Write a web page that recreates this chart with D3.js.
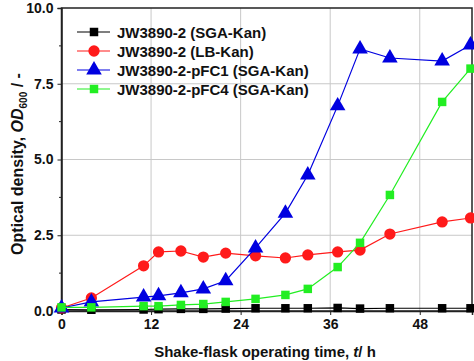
<!DOCTYPE html>
<html>
<head>
<meta charset="utf-8">
<script src="https://cdn.jsdelivr.net/npm/d3@7"></script>
<style>
  body { margin: 0; background: #fff; }
  text { font-family: "Liberation Sans", Arial, sans-serif; font-weight: bold; }
</style>
</head>
<body>
<div id="chart"></div>
<script>
// data
const hours = [0, 4, 11, 13, 16, 19, 22, 26, 30, 33, 37, 40, 44, 51, 54.8];
const sgaKan = [0.05, 0.04, 0.05, 0.06, 0.07, 0.07, 0.08, 0.09, 0.09, 0.09, 0.1, 0.08, 0.09, 0.09, 0.09];
const lbKan = [0.1, 0.43, 1.49, 1.95, 1.98, 1.78, 1.91, 1.82, 1.75, 1.85, 1.95, 2.01, 2.54, 2.94, 3.07];
const pfc1 = [0.1, 0.3, 0.46, 0.5, 0.6, 0.73, 1.0, 2.08, 3.23, 4.49, 6.77, 8.65, 8.35, 8.25, 8.78];
const pfc4 = [0.12, 0.12, 0.16, 0.16, 0.2, 0.23, 0.3, 0.4, 0.53, 0.73, 1.45, 2.25, 3.83, 6.9, 8.0];
const seriesNames = ["JW3890-2 (SGA-Kan)", "JW3890-2 (LB-Kan)", "JW3890-2-pFC1 (SGA-Kan)", "JW3890-2-pFC4 (SGA-Kan)"];
const xTicks = [0, 12, 24, 36, 48];
const yTicks = [0, 2.5, 5, 7.5, 10];

const width = 474;
const height = 361;
const margin = {left: 61.5, right: 2, top: 8, bottom: 50};

const svg = d3.select("#chart")
  .append("svg")
  .attr("width", width)
  .attr("height", height);

const x = d3.scaleLinear().domain([0, 55]).range([margin.left, width - margin.right]);
const y = d3.scaleLinear().domain([0, 10]).range([height - margin.bottom, margin.top]);

// grid
svg.append("g")
  .selectAll("line")
  .data(xTicks.slice(1))
  .join("line")
  .attr("x1", d => x(d)).attr("x2", d => x(d))
  .attr("y1", y(0)).attr("y2", y(10))
  .attr("stroke", "#c8c8c8").attr("stroke-width", 1);
svg.append("g")
  .selectAll("line")
  .data(yTicks.slice(1, -1))
  .join("line")
  .attr("y1", d => y(d)).attr("y2", d => y(d))
  .attr("x1", x(0)).attr("x2", x(55))
  .attr("stroke", "#c8c8c8").attr("stroke-width", 1);

// frame
svg.append("rect")
  .attr("x", x(0)).attr("y", y(10))
  .attr("width", x(55) - x(0)).attr("height", y(0) - y(10))
  .attr("fill", "none").attr("stroke", "#222").attr("stroke-width", 1.5);

// axes
const xAxis = svg.append("g")
  .attr("transform", `translate(0,${y(0)})`)
  .call(d3.axisBottom(x).tickValues(xTicks).tickFormat(d3.format("d")).tickSize(4).tickPadding(4));
const yAxis = svg.append("g")
  .attr("transform", `translate(${x(0)},0)`)
  .call(d3.axisLeft(y).tickValues(yTicks).tickFormat(d3.format(".1f")).tickSize(4).tickPadding(4));
// minor y ticks
svg.append("g")
  .selectAll("line")
  .data([1.25, 3.75, 6.25, 8.75])
  .join("line")
  .attr("x1", x(0) - 2.5).attr("x2", x(0))
  .attr("y1", d => y(d)).attr("y2", d => y(d))
  .attr("stroke", "#222");
[xAxis, yAxis].forEach(a => {
  a.select(".domain").attr("stroke", "#222").attr("stroke-width", 1.5);
  a.selectAll(".tick line").attr("stroke", "#222");
  a.selectAll("text").attr("font-size", 14).attr("fill", "#111")
    .attr("font-family", "Liberation Sans, Arial, sans-serif").attr("font-weight", "bold");
});

// series
const series = [
  {name: seriesNames[0], values: sgaKan, color: "#000000", shape: d3.symbolSquare, size: 72},
  {name: seriesNames[1], values: lbKan, color: "#ff1a1a", shape: d3.symbolCircle, size: 100},
  {name: seriesNames[2], values: pfc1, color: "#0000e0", shape: d3.symbolTriangle, size: 105},
  {name: seriesNames[3], values: pfc4, color: "#22ee22", shape: d3.symbolSquare, size: 72}
];

const line = d3.line().x(d => x(d[0])).y(d => y(d[1]));

const plot = svg.append("g");
series.forEach(s => {
  const pts = hours.map((h, i) => [h, s.values[i]]);
  plot.append("path")
    .attr("d", line(pts))
    .attr("fill", "none")
    .attr("stroke", s.color)
    .attr("stroke-width", 1.2);
  plot.selectAll(null)
    .data(pts)
    .join("path")
    .attr("transform", d => `translate(${x(d[0])},${y(d[1])})`)
    .attr("d", d3.symbol().type(s.shape).size(s.size))
    .attr("fill", s.color);
});

// legend
const legend = svg.append("g");
series.forEach((s, i) => {
  const ly = 32 + i * 19;
  legend.append("line")
    .attr("x1", 77).attr("x2", 110).attr("y1", ly).attr("y2", ly)
    .attr("stroke", s.color).attr("stroke-width", 1.2);
  legend.append("path")
    .attr("transform", `translate(94,${ly})`)
    .attr("d", d3.symbol().type(s.shape).size(s.size))
    .attr("fill", s.color);
  legend.append("text")
    .attr("x", 117).attr("y", ly + 5.5)
    .attr("font-size", 15).attr("fill", "#111")
    .text(s.name);
});

// axis titles
svg.append("text")
  .attr("x", 265).attr("y", 357)
  .attr("text-anchor", "middle")
  .attr("font-size", 15).attr("fill", "#111")
  .html('Shake-flask operating time, <tspan font-style="italic">t</tspan>/ h');

svg.append("text")
  .attr("transform", "translate(23,164) rotate(-90)")
  .attr("text-anchor", "middle")
  .attr("font-size", 16).attr("fill", "#111")
  .html('Optical density, <tspan font-style="italic">OD</tspan><tspan font-size="10" dy="4">600</tspan><tspan dy="-4"> / -</tspan>');
</script>
</body>
</html>
